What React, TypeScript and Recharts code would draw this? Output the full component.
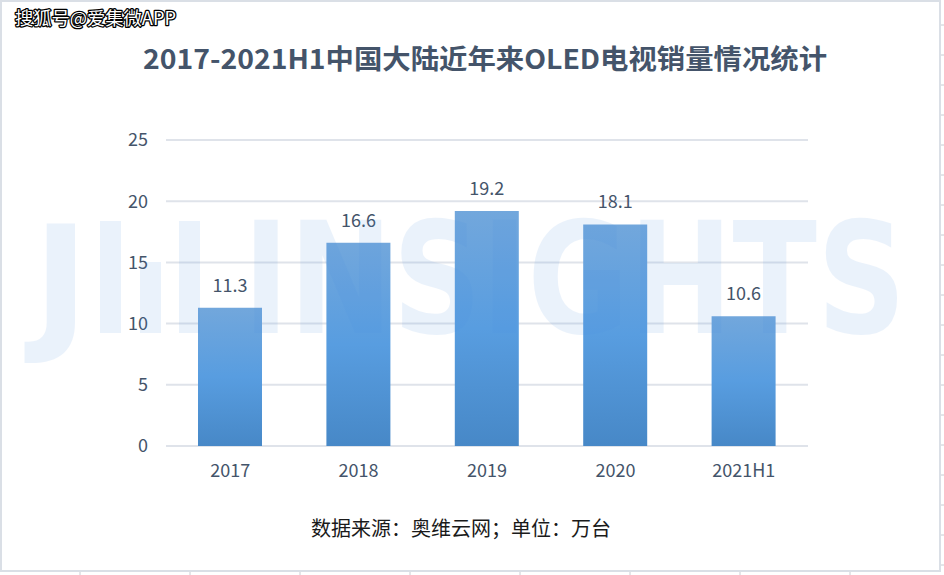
import React from "react";
import { BarChart, Bar, XAxis, YAxis, CartesianGrid, LabelList } from "recharts";

const categories = ["2017", "2018", "2019", "2020", "2021H1"];
const sales = [11.3, 16.6, 19.2, 18.1, 10.6];
const yTicks = [0, 5, 10, 15, 20, 25];
const titleText = "2017-2021H1中国大陆近年来OLED电视销量情况统计";
const sourceText = "数据来源：奥维云网；单位：万台";
const logoText = "搜狐号@爱集微APP";

const data = categories.map((c, i) => ({ name: c, value: sales[i] }));

const FONT = "'Noto Sans CJK SC', 'Noto Sans', sans-serif";
const AXIS_COLOR = "#44546a";

export default function App() {
  return (
    <div style={{ position: "absolute", left: 0, top: 0, width: 944, height: 575, background: "#fff", fontFamily: FONT }}>
      <BarChart
        width={944}
        height={575}
        data={data}
        margin={{ top: 140, right: 136, left: 0, bottom: 0 }}
      >
        <defs>
          <linearGradient id="barGrad" x1="0" y1="0" x2="0" y2="1">
            <stop offset="0%" stopColor="#72a7dc" />
            <stop offset="50%" stopColor="#589de0" />
            <stop offset="100%" stopColor="#4788c7" />
          </linearGradient>
        </defs>
        <CartesianGrid vertical={false} stroke="#dfe3ea" strokeWidth={2} />
        <XAxis
          dataKey="name"
          height={129}
          axisLine={false}
          tickLine={false}
          tickSize={0}
          tickMargin={18}
          tick={{ fill: AXIS_COLOR, fontSize: 18, fontFamily: FONT }}
        />
        <YAxis
          width={166}
          domain={[0, 25]}
          ticks={yTicks}
          axisLine={false}
          tickLine={false}
          tickSize={0}
          tickMargin={18}
          tick={{ fill: AXIS_COLOR, fontSize: 18, fontFamily: FONT }}
        />
        <Bar dataKey="value" fill="url(#barGrad)" barSize={64} isAnimationActive={false}>
          <LabelList
            dataKey="value"
            position="top"
            offset={16}
            style={{ fill: AXIS_COLOR, fontSize: 18, fontFamily: FONT }}
          />
        </Bar>
      </BarChart>
      <svg
        width={944}
        height={575}
        style={{ position: "absolute", left: 0, top: 0, pointerEvents: "none" }}
      >
        {/* watermark */}
        <g fill="#4a90e2" opacity={0.11}>
          <text x={33} y={333} fontSize={150} fontWeight="bold" fontFamily="'DejaVu Sans', sans-serif">
            J
          </text>
          <rect x={100} y={221} width={21} height={112} />
          <rect x={140} y={262} width={21} height={71} />
          <rect x={179} y={221} width={21} height={112} />
          <text
            x={243}
            y={333}
            fontSize={155}
            fontWeight="bold"
            fontFamily="'DejaVu Sans', sans-serif"
            textLength={663}
            lengthAdjust="spacingAndGlyphs"
          >
            INSIGHTS
          </text>
        </g>
        {/* frame */}
        <rect x={1} y={1} width={939} height={570} fill="none" stroke="#dadfe6" strokeWidth={2} />
        {[80, 190, 300, 410, 520, 630, 740, 850].map((x) => (
          <line key={"b" + x} x1={x} y1={572} x2={x} y2={575} stroke="#c8ccd2" strokeWidth={1} />
        ))}
        {[25, 55, 85, 115, 145, 175, 205, 235, 265, 295, 325, 355, 385, 415, 445, 475, 505, 535, 565].map((y) => (
          <line key={"r" + y} x1={941} y1={y} x2={944} y2={y} stroke="#c8ccd2" strokeWidth={1} />
        ))}
        {/* logo */}
        <text
          x={15}
          y={25}
          fontSize={18}
          fontFamily={FONT}
          fill="#ffffff"
          stroke="#000000"
          strokeWidth={2.5}
          paintOrder="stroke"
          strokeLinejoin="round"
          textLength={161}
          lengthAdjust="spacingAndGlyphs"
        >
          {logoText}
        </text>
        {/* title */}
        <text
          x={485}
          y={69}
          textAnchor="middle"
          fontSize={27}
          fontWeight="bold"
          fontFamily={FONT}
          fill="#44546a"
          textLength={684}
          lengthAdjust="spacingAndGlyphs"
        >
          {titleText}
        </text>
        {/* source */}
        <text x={461} y={536} textAnchor="middle" fontSize={20} fontFamily={FONT} fill="#1a1a1a">
          {sourceText}
        </text>
      </svg>
    </div>
  );
}
